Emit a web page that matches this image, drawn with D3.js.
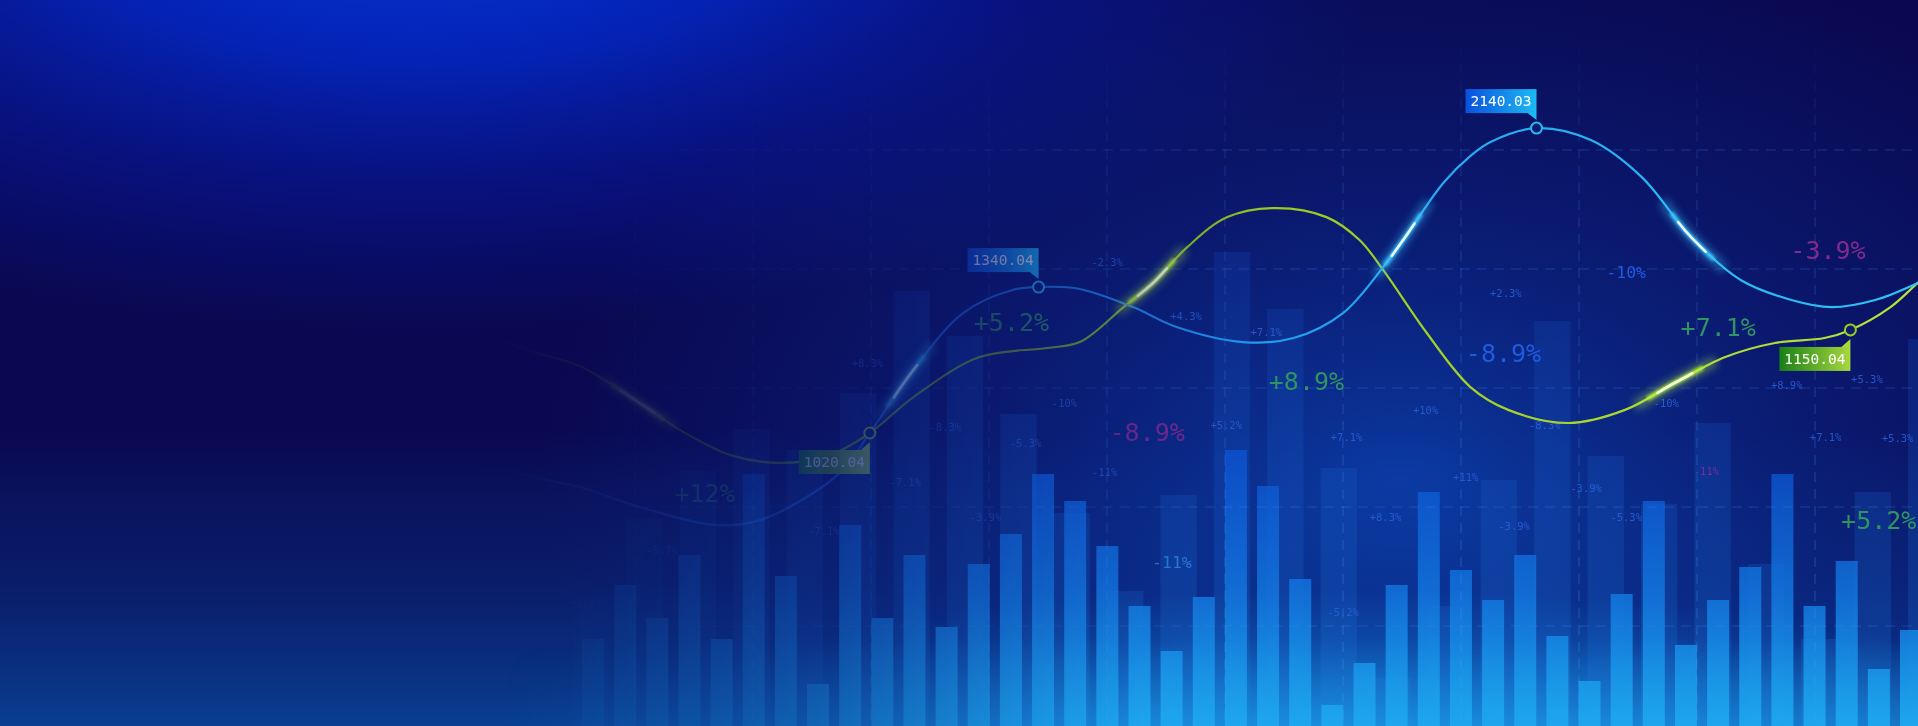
<!DOCTYPE html>
<html>
<head>
<meta charset="utf-8">
<script src="https://cdn.jsdelivr.net/npm/d3@7/dist/d3.min.js"></script>
<style>
html,body{margin:0;padding:0;background:#0a0850;overflow:hidden;}
svg{display:block;}
</style>
</head>
<body>
<svg id="chart" width="1918" height="726"></svg>
<script>
// ================= DATA =================
// foreground bars (index units)
const barValues = [29,47,36,57,29,84,50,14,67,36,57,33,54,64,84,75,60,40,25,43,92,80,49,7,21,47,78,52,42,57,30,15,44,75,27,42,53,84,40,55,19,32];
// wide translucent background bars
const backBarValues = [42,69,85,99,92,111,145,130,104,71,45,77,158,139,86,16,40,82,135,90,74,101,54,29,78,129];
// grid (time ticks / value levels)
const gridTimes = [20,30,40,50,60,70,80,90,100,110,120,130];
const gridLevels = [0,500,1000,1500,2000];
// blue series
const blueT = [3.5,11.4,15.3,20.4,26.9,30.6,35.1,37.6,39.9,43.6,47.8,52.0,54.2,57.5,62.2,65.9,71.5,75.8,80.0,83.4,85.1,88.5,90.8,92.5,96.4,101.0,105.3,109.5,113.7,118.0,121.4,125.1,128.7,130.6];
const blueV = [739,626,584,500,424,445,559,655,811,1076,1315,1412,1424,1418,1340,1256,1193,1210,1315,1508,1622,1861,1975,2034,2092,2042,1887,1634,1454,1370,1340,1370,1441,1487];
// green series
const greenT = [3.5,11.4,15.3,20.4,23.8,28.1,32.3,36.5,39.9,43.6,49.2,54.9,57.7,61.4,63.9,66.8,70.2,74.4,78.6,81.4,83.4,87.1,90.8,94.0,99.1,103.9,108.1,112.4,116.6,120.8,123.0,126.4,128.7,130.6];
const greenV = [1294,1151,1092,937,824,718,685,718,811,962,1130,1168,1193,1340,1441,1592,1718,1756,1718,1622,1496,1231,1004,908,853,908,1021,1130,1189,1210,1244,1340,1441,1517];
// highlight flares along the curves (time units)
const blueGlowT = [42.9, 85.1, 109.5];
const greenGlowT = [20.2, 63.9, 108.1];
// value callouts
const callouts = [
  {series:'blue',  index:12, text:'1340.04', side:'above'},
  {series:'blue',  index:24, text:'2140.03', side:'above'},
  {series:'green', index:8,  text:'1020.04', side:'below'},
  {series:'green', index:30, text:'1150.04', side:'below'}
];
// percentage annotations
const bigLabels = [
  {text:'+12%',  t:25.9,  v:521,  tone:'up'},
  {text:'+5.2%', t:51.9,  v:1239, tone:'up'},
  {text:'-8.9%', t:63.4,  v:777,  tone:'down'},
  {text:'+8.9%', t:76.9,  v:992,  tone:'up'},
  {text:'-8.9%', t:93.6,  v:1109, tone:'flat'},
  {text:'-3.9%', t:121.1, v:1542, tone:'down'},
  {text:'+7.1%', t:111.8, v:1218, tone:'up'},
  {text:'+5.2%', t:125.4, v:408,  tone:'up'}
];
const midLabels = [
  {text:'-11%', t:65.5,  v:244,  tone:'cool'},
  {text:'-10%', t:104.0, v:1462, tone:'flat'}
];
const smallLabels = [
  {text:'+8.3%', t:39.7, v:1088, tone:'flat'},
  {text:'-8.3%', t:46.3, v:819,  tone:'flat'},
  {text:'-10%',  t:56.4, v:920,  tone:'flat'},
  {text:'-5.3%', t:53.1, v:752,  tone:'flat'},
  {text:'-7.1%', t:42.9, v:588,  tone:'flat'},
  {text:'-3.9%', t:49.7, v:441,  tone:'flat'},
  {text:'-7.1%', t:36.0, v:382,  tone:'flat'},
  {text:'-5.7%', t:22.3, v:303,  tone:'flat'},
  {text:'-2.3%', t:60.0, v:1513, tone:'flat'},
  {text:'+4.3%', t:66.7, v:1286, tone:'flat'},
  {text:'+7.1%', t:73.5, v:1218, tone:'flat'},
  {text:'+5.2%', t:70.1, v:828,  tone:'flat'},
  {text:'+10%',  t:87.0, v:891,  tone:'flat'},
  {text:'+2.3%', t:93.8, v:1382, tone:'flat'},
  {text:'-10%',  t:107.4,v:920,  tone:'flat'},
  {text:'+8.9%', t:117.6,v:996,  tone:'flat'},
  {text:'+5.3%', t:124.4,v:1021, tone:'flat'},
  {text:'-8.3%', t:97.1, v:828,  tone:'flat'},
  {text:'+7.1%', t:120.9,v:777,  tone:'flat'},
  {text:'+5.3%', t:127.0,v:773,  tone:'flat'},
  {text:'-3.9%', t:100.6,v:563,  tone:'flat'},
  {text:'-5.3%', t:104.0,v:441,  tone:'flat'},
  {text:'-3.9%', t:94.5, v:403,  tone:'flat'},
  {text:'-11%',  t:110.8,v:634,  tone:'down'},
  {text:'-11%',  t:59.8, v:630,  tone:'flat'},
  {text:'+7.1%', t:80.3, v:777,  tone:'flat'},
  {text:'+8.3%', t:83.6, v:441,  tone:'flat'},
  {text:'-5.2%', t:80.0, v:42,   tone:'flat'},
  {text:'+11%',  t:90.4, v:609,  tone:'flat'},
  {text:'+2.3%', t:15.8, v:84,   tone:'flat'}
];

// ================= SETUP =================
const W = 1918, H = 726;
const MONO = "'DejaVu Sans Mono','Liberation Mono',monospace";
const svg = d3.select('#chart');
const defs = svg.append('defs');

const x = d3.scaleLinear().domain([0,130]).range([399,1933]);
const y = d3.scaleLinear().domain([0,2000]).range([626,150]);
const xBar = d3.scaleLinear().domain([0, barValues.length-1]).range([582,1900]);
const xBack = d3.scaleLinear().domain([0, backBarValues.length-1]).range([573,1908]);
const yBar = d3.scaleLinear().domain([0,100]).range([H,426]);
const barW = (xBar(1)-xBar(0))*0.684;
const backW = (xBack(1)-xBack(0))*0.68;

function addStops(g, stops){
  stops.forEach(s=>g.append('stop').attr('offset',s[0]).attr('stop-color',s[1]).attr('stop-opacity',s[2]===undefined?1:s[2]));
  return g;
}
function linGrad(id, x1,y1,x2,y2, stops, units){
  const g = defs.append('linearGradient').attr('id',id)
    .attr('gradientUnits', units||'userSpaceOnUse')
    .attr('x1',x1).attr('y1',y1).attr('x2',x2).attr('y2',y2);
  return addStops(g, stops);
}
function radGrad(id, cx, cy, r, sy, stops){
  const g = defs.append('radialGradient').attr('id',id).attr('gradientUnits','userSpaceOnUse')
    .attr('cx',cx).attr('cy',cy).attr('r',r)
    .attr('gradientTransform',`translate(${cx},${cy}) scale(1,${sy}) translate(${-cx},${-cy})`);
  return addStops(g, stops);
}
function blurFilter(id, sd){
  defs.append('filter').attr('id',id).attr('x','-50%').attr('y','-50%').attr('width','200%').attr('height','200%')
    .append('feGaussianBlur').attr('stdDeviation',sd);
}

// background gradients
linGrad('bgBottom',0,430,0,H,[[0,'#0a3a8c',0],[0.5,'#0a2f80',0.5],[1,'#0a3f92',1]]);
radGrad('bgTopLeft',420,-80,980,0.42,[[0,'#0532d4',1],[0.35,'#0425bd',0.92],[0.7,'#07179c',0.5],[1,'#07179c',0]]);
radGrad('bgRight',1400,480,860,0.65,[[0,'#0b4abc',0.75],[0.5,'#0a3098',0.42],[1,'#0a3098',0]]);
radGrad('bgBottomGlow',1350,770,820,0.22,[[0,'#22aef2',0.8],[0.6,'#168ce4',0.35],[1,'#168ce4',0]]);

// bars gradients
linGrad('barFill',0,430,0,H,[[0,'#0b4fd2',0.72],[0.55,'#1376de',0.85],[1,'#1ea8ee',0.95]]);
linGrad('backFill',0,240,0,H,[[0,'#1a52cc',0.2],[1,'#1c7ad8',0.24]]);
linGrad('bottomStrip',0,640,0,H,[[0,'#1a9ae8',0],[1,'#1fa8f0',0.45]]);

// masks (fade chart to the left)
linGrad('mBarsGrad',0,0,W,0,[[500/W,'#fff',0],[600/W,'#fff',0.12],[700/W,'#fff',0.22],[820/W,'#fff',0.38],[950/W,'#fff',0.66],[1050/W,'#fff',0.88],[1150/W,'#fff',1]]);
linGrad('mLinesGrad',0,0,W,0,[[480/W,'#fff',0],[600/W,'#fff',0.1],[720/W,'#fff',0.2],[860/W,'#fff',0.3],[1000/W,'#fff',0.42],[1120/W,'#fff',0.7],[1260/W,'#fff',1]]);
defs.append('mask').attr('id','mBars').attr('maskUnits','userSpaceOnUse').attr('x',0).attr('y',0).attr('width',W).attr('height',H)
  .append('rect').attr('width',W).attr('height',H).attr('fill','url(#mBarsGrad)');
defs.append('mask').attr('id','mLines').attr('maskUnits','userSpaceOnUse').attr('x',0).attr('y',0).attr('width',W).attr('height',H)
  .append('rect').attr('width',W).attr('height',H).attr('fill','url(#mLinesGrad)');

// grid gradients
linGrad('gridV',0,30,0,H,[[0,'#3a7cf0',0],[0.2,'#3a7cf0',0.3],[1,'#45a8f2',0.36]]);

// curve strokes
linGrad('blueStroke',900,0,1918,0,[[0,'#1f66e0'],[0.4,'#22a2f0'],[1,'#30c2f6']]);
linGrad('greenStroke',900,0,1918,0,[[0,'#6f9e22'],[0.4,'#9ccc22'],[1,'#b8e23c']]);

// callout boxes
linGrad('boxBlue',0,0,1,0,[[0,'#0a50de'],[1,'#1cbaf4']],'objectBoundingBox');
linGrad('boxGreen',0,0,1,0,[[0,'#198016'],[1,'#a8d83e']],'objectBoundingBox');

blurFilter('blurBig',4);
blurFilter('blurMid',1.6);
blurFilter('blurSm',0.6);

// ================= BACKGROUND =================
svg.append('rect').attr('width',W).attr('height',H).attr('fill','#0a0850');
svg.append('rect').attr('width',W).attr('height',H).attr('fill','url(#bgBottom)');
svg.append('rect').attr('width',W).attr('height',H).attr('fill','url(#bgTopLeft)');
svg.append('rect').attr('width',W).attr('height',H).attr('fill','url(#bgRight)');

// ================= BARS =================
const gBars = svg.append('g').attr('mask','url(#mBars)');
gBars.append('rect').attr('width',W).attr('height',H).attr('fill','url(#bgBottomGlow)');
gBars.selectAll('rect.back').data(backBarValues).join('rect').attr('class','back')
  .attr('x',(d,i)=>xBack(i)).attr('y',d=>yBar(d)).attr('width',backW).attr('height',d=>H-yBar(d))
  .attr('fill','url(#backFill)');
gBars.selectAll('rect.bar').data(barValues).join('rect').attr('class','bar')
  .attr('x',(d,i)=>xBar(i)).attr('y',d=>yBar(d)).attr('width',barW).attr('height',d=>H-yBar(d))
  .attr('fill','url(#barFill)');
gBars.append('rect').attr('x',0).attr('y',640).attr('width',W).attr('height',H-640).attr('fill','url(#bottomStrip)');

// ================= GRID + TEXT + CURVES =================
const gTop = svg.append('g').attr('mask','url(#mLines)');

const gGrid = gTop.append('g');
gGrid.selectAll('line.v').data(gridTimes).join('line').attr('class','v')
  .attr('x1',d=>x(d)).attr('x2',d=>x(d)).attr('y1',30).attr('y2',H)
  .attr('stroke','url(#gridV)').attr('stroke-width',1).attr('stroke-dasharray','10 7');
gGrid.selectAll('line.h').data(gridLevels).join('line').attr('class','h')
  .attr('x1',x(15)).attr('x2',W).attr('y1',d=>y(d)).attr('y2',d=>y(d))
  .attr('stroke','#3f90f0').attr('stroke-opacity',0.3).attr('stroke-width',1).attr('stroke-dasharray','10 7');

const toneColor = {up:'#2f9462', down:'#832a8e', flat:'#1f5be0', cool:'#2b84de'};
const smallColor = {up:'#2f9462', down:'#8a2c9c', flat:'#2a62d8', cool:'#2b84de'};

const gText = gTop.append('g').attr('font-family',MONO).attr('text-anchor','middle');
gText.selectAll('text.sm').data(smallLabels).join('text').attr('class','sm')
  .attr('x',d=>x(d.t)).attr('y',d=>y(d.v)).attr('font-size',10.5)
  .attr('fill',d=>smallColor[d.tone]).attr('fill-opacity',0.85).text(d=>d.text);
gText.selectAll('text.md').data(midLabels).join('text').attr('class','md')
  .attr('x',d=>x(d.t)).attr('y',d=>y(d.v)).attr('font-size',16.5)
  .attr('fill',d=>toneColor[d.tone]).text(d=>d.text);
gText.selectAll('text.bg').data(bigLabels).join('text').attr('class','bg')
  .attr('x',d=>x(d.t)).attr('y',d=>y(d.v)).attr('font-size',25)
  .attr('fill',d=>toneColor[d.tone]).text(d=>d.text);

const line = d3.line().x(d=>x(d[0])).y(d=>y(d[1])).curve(d3.curveCatmullRom.alpha(0.5));
const blueData = blueT.map((t,i)=>[t, blueV[i]]);
const greenData = greenT.map((t,i)=>[t, greenV[i]]);

const gCurves = gTop.append('g').attr('fill','none').attr('stroke-linecap','round');
const greenPath = gCurves.append('path').attr('d',line(greenData)).attr('stroke','url(#greenStroke)').attr('stroke-width',2.2);
const bluePath = gCurves.append('path').attr('d',line(blueData)).attr('stroke','url(#blueStroke)').attr('stroke-width',2.2);

function lengthAtX(node, tx){
  const total = node.getTotalLength();
  let lo=0, hi=total;
  for(let k=0;k<40;k++){ const m=(lo+hi)/2; if(node.getPointAtLength(m).x < tx) lo=m; else hi=m; }
  return lo;
}
function flare(pathSel, tVals, color, core){
  const node = pathSel.node();
  const d = pathSel.attr('d');
  const total = node.getTotalLength();
  tVals.forEach(t=>{
    const L = lengthAtX(node, x(t));
    [[42,10,color,0.42,'url(#blurBig)'],[30,5,color,0.85,'url(#blurMid)'],[20,2.6,core,1,'url(#blurSm)']].forEach(([half,w,c,op,f])=>{
      gCurves.append('path').attr('d',d).attr('stroke',c).attr('stroke-width',w).attr('stroke-opacity',op)
        .attr('filter',f).attr('stroke-dasharray',`0 ${Math.max(0,L-half)} ${2*half} ${total}`);
    });
  });
}
flare(bluePath, blueGlowT, '#3cc4ff', '#e8fbff');
flare(greenPath, greenGlowT, '#b6f040', '#f4ffd8');

// ================= CALLOUTS =================
const seriesData = {blue: blueData, green: greenData};
const seriesStroke = {blue:'#2fb4f4', green:'#9ccc22'};
const seriesBox = {blue:'url(#boxBlue)', green:'url(#boxGreen)'};
const seriesTip = {blue:'#1cbaf4', green:'#a8d83e'};
const boxW = 71, boxH = 24;

const gCall = gTop.append('g');
callouts.forEach(c=>{
  const p = seriesData[c.series][c.index];
  const cx = x(p[0]), cy = y(p[1]);
  const by = c.side==='above' ? cy-15-boxH : cy+17;
  const tri = c.side==='above'
    ? [[cx-9,cy-15],[cx,cy-15],[cx,cy-8]]
    : [[cx-9,cy+17],[cx,cy+17],[cx,cy+9]];
  gCall.append('path').attr('d','M'+tri.map(q=>q.join(',')).join('L')+'Z').attr('fill',seriesTip[c.series]);
  gCall.append('rect').attr('x',cx-boxW).attr('y',by).attr('width',boxW).attr('height',boxH).attr('fill',seriesBox[c.series]);
  gCall.append('text').attr('x',cx-boxW/2).attr('y',by+17).attr('text-anchor','middle')
    .attr('font-family',MONO).attr('font-size',14.5).attr('fill','#ffffff').text(c.text);
  gCall.append('circle').attr('cx',cx).attr('cy',cy).attr('r',5.5)
    .attr('fill','#0a1c6e').attr('stroke',seriesStroke[c.series]).attr('stroke-width',2);
});
</script>
</body>
</html>
